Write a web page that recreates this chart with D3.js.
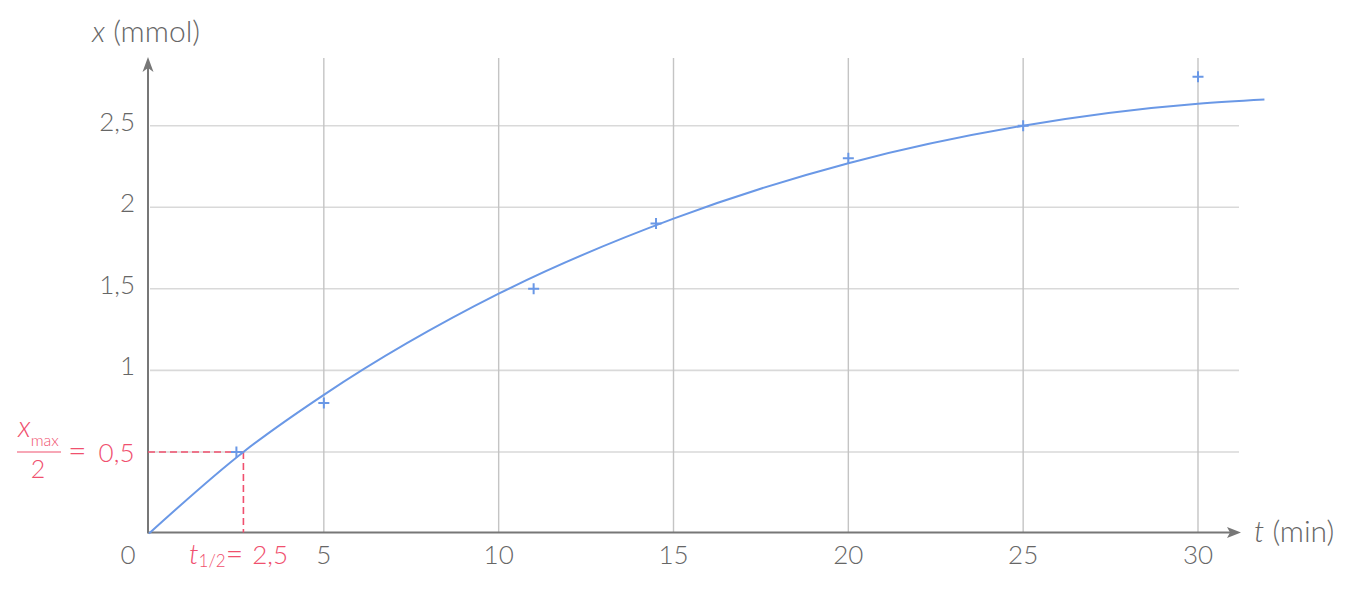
<!DOCTYPE html>
<html>
<head>
<meta charset="utf-8">
<script src="https://cdn.jsdelivr.net/npm/d3@7"></script>
<style>
  body { margin: 0; background: #fff; }
  svg text { font-family: Lato, "Open Sans", sans-serif; font-weight: 300; }
</style>
</head>
<body>
<svg id="chart" width="1349" height="592"></svg>
<script>
// measured points (t in min, x in mmol)
var pointT = [2.5, 5, 11, 14.5, 20, 25, 30];
var pointX = [0.5, 0.8, 1.5, 1.9, 2.3, 2.5, 2.8];

// fitted curve
var curveT = [0, 2.7, 5, 10, 15, 20, 25, 30, 31.9];
var curveX = [0, 0.5, 0.85, 1.47, 1.93, 2.27, 2.5, 2.635, 2.66];

var xTicks = [5, 10, 15, 20, 25, 30];
var yTicks = [0.5, 1, 1.5, 2, 2.5];
// 0,5 is written in red by the half-reaction note instead
var yTickLabels = ["", "1", "1,5", "2", "2,5"];

var halfT = 2.7, halfX = 0.5;

var svg = d3.select("#chart");

var blue = "#6a98e6",
    red = "#f0506e",
    axisGrey = "#777",
    textGrey = "#666";

var x = d3.scaleLinear().domain([0, 30]).range([149, 1198]);
var y = d3.scaleLinear().domain([0, 2.5]).range([533.5, 125.7]);

var x0 = x(0) - 1, y0 = y(0) - 1;

// grid
svg.append("g").selectAll("line")
  .data(yTicks)
  .enter().append("line")
    .attr("x1", x0 + 2).attr("x2", 1239)
    .attr("y1", function(d) { return y(d); })
    .attr("y2", function(d) { return y(d); })
    .attr("stroke", "#d9d9d9")
    .attr("stroke-width", 1.6);

svg.append("g").selectAll("line")
  .data(xTicks)
  .enter().append("line")
    .attr("x1", function(d) { return x(d); })
    .attr("x2", function(d) { return x(d); })
    .attr("y1", 58).attr("y2", y0)
    .attr("stroke", "#c4c4c4")
    .attr("stroke-width", 1.4);

// axes
svg.append("line")
  .attr("x1", x0).attr("x2", 1230)
  .attr("y1", y0).attr("y2", y0)
  .attr("stroke", axisGrey).attr("stroke-width", 2);
svg.append("path")
  .attr("d", "M1241," + y0 + " L1227," + (y0 - 5.5) + " L1230," + y0 + " L1227," + (y0 + 5.5) + " Z")
  .attr("fill", axisGrey);

svg.append("line")
  .attr("x1", x0).attr("x2", x0)
  .attr("y1", y0 + 1).attr("y2", 68)
  .attr("stroke", axisGrey).attr("stroke-width", 2);
svg.append("path")
  .attr("d", "M" + x0 + ",57 L" + (x0 - 5.5) + ",72 L" + x0 + ",68 L" + (x0 + 5.5) + ",72 Z")
  .attr("fill", axisGrey);

// tick labels
svg.append("g").selectAll("text")
  .data(xTicks)
  .enter().append("text")
    .attr("x", function(d) { return x(d); })
    .attr("y", 564)
    .attr("text-anchor", "middle")
    .attr("font-size", 26)
    .attr("fill", textGrey)
    .text(function(d) { return d; });

svg.append("g").selectAll("text")
  .data(yTicks)
  .enter().append("text")
    .attr("x", 135)
    .attr("y", function(d) { return y(d) + 5; })
    .attr("text-anchor", "end")
    .attr("font-size", 26)
    .attr("fill", textGrey)
    .text(function(d, i) { return yTickLabels[i]; });

svg.append("text")
  .attr("x", 128).attr("y", 564)
  .attr("text-anchor", "middle")
  .attr("font-size", 26).attr("fill", textGrey)
  .text("0");

// axis titles
var yTitle = svg.append("text")
  .attr("x", 92).attr("y", 42)
  .attr("font-size", 30).attr("fill", textGrey);
yTitle.append("tspan").attr("font-style", "italic").text("x");
yTitle.append("tspan").text(" (mmol)");

var xTitle = svg.append("text")
  .attr("x", 1254).attr("y", 542)
  .attr("font-size", 30).attr("fill", textGrey);
xTitle.append("tspan").attr("font-style", "italic").text("t");
xTitle.append("tspan").text(" (min)");

// half reaction dashed lines
svg.append("line")
  .attr("x1", x0).attr("x2", x(halfT))
  .attr("y1", y(halfX)).attr("y2", y(halfX))
  .attr("stroke", red).attr("stroke-width", 1.6)
  .attr("stroke-dasharray", "7,4");
svg.append("line")
  .attr("x1", x(halfT)).attr("x2", x(halfT))
  .attr("y1", y(halfX)).attr("y2", y0)
  .attr("stroke", red).attr("stroke-width", 1.6)
  .attr("stroke-dasharray", "7,4");

// curve
var curveData = curveT.map(function(t, i) { return [t, curveX[i]]; });
var line = d3.line()
  .x(function(d) { return x(d[0]); })
  .y(function(d) { return y(d[1]); })
  .curve(d3.curveMonotoneX);

svg.append("path")
  .datum(curveData)
  .attr("d", line)
  .attr("fill", "none")
  .attr("stroke", blue)
  .attr("stroke-width", 2);

// measured points as crosses
var pts = pointT.map(function(t, i) { return [t, pointX[i]]; });
svg.append("g").selectAll("path")
  .data(pts)
  .enter().append("path")
    .attr("d", function(d) {
      var cx = x(d[0]), cy = y(d[1]), s = 5.5;
      return "M" + (cx - s) + "," + cy + "H" + (cx + s) + "M" + cx + "," + (cy - s) + "V" + (cy + s);
    })
    .attr("stroke", blue)
    .attr("stroke-width", 2)
    .attr("fill", "none");

// red annotations
var tHalf = svg.append("text")
  .attr("x", 189).attr("y", 564)
  .attr("font-size", 26).attr("fill", red);
tHalf.append("tspan").attr("font-style", "italic").attr("font-size", 28).text("t");
tHalf.append("tspan").attr("font-size", 17).attr("dy", 3).text("1/2");
tHalf.append("tspan").attr("dy", -3).attr("font-size", 30).text("=");
tHalf.append("tspan").attr("dx", 2).text("\u00a02,5");

var frac = svg.append("g").attr("fill", red);
var num = frac.append("text")
  .attr("x", 18).attr("y", 437)
  .attr("font-size", 29);
num.append("tspan").attr("font-style", "italic").text("x");
num.append("tspan").attr("font-size", 16).attr("dy", 9).text("max");
frac.append("line")
  .attr("x1", 17).attr("x2", 61)
  .attr("y1", 452).attr("y2", 452)
  .attr("stroke", red).attr("stroke-width", 1.2);
frac.append("text")
  .attr("x", 38).attr("y", 478)
  .attr("text-anchor", "middle")
  .attr("font-size", 25)
  .text("2");
var eq = frac.append("text")
  .attr("x", 68).attr("y", 462)
  .attr("font-size", 26);
eq.append("tspan").attr("font-size", 32).text("=");
eq.append("tspan").attr("dx", 5).text("\u00a00,5");
</script>
</body>
</html>
